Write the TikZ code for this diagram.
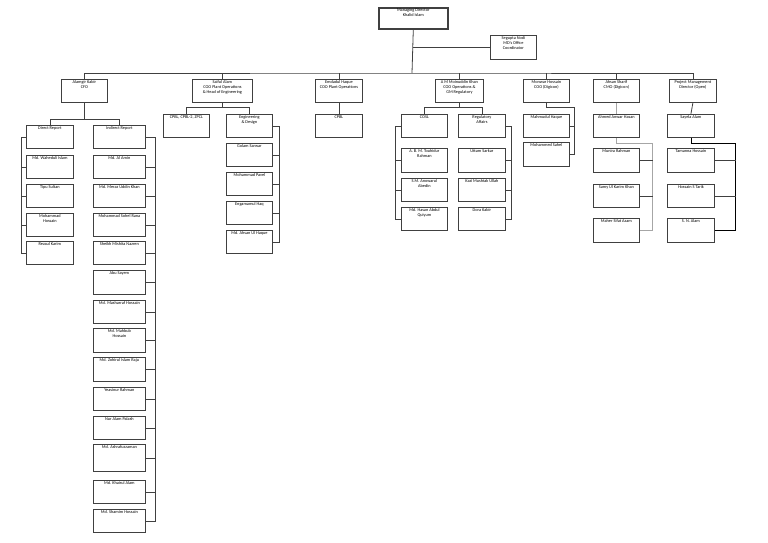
\documentclass[tikz,border=0pt]{standalone}
\usepackage{fontspec}
\setmainfont{Carlito}
\begin{document}
\begin{tikzpicture}[x=1pt,y=-1pt,
  box/.style={draw=black!75,line width=0.8pt,inner sep=0pt,anchor=north west},
  lbl/.style={font=\fontsize{4.3}{5}\selectfont,align=center,inner sep=1.5pt,anchor=north},
  ln/.style={draw=black!75,line width=0.8pt},
  gl/.style={draw=black!35,line width=0.8pt}]
\useasboundingbox (0,0) rectangle (768,543);
\newcommand\bx[6]{\node[box,minimum width={(#4-#2)*1pt},minimum height={(#5-#3)*1pt},label={[lbl]north:{#6}}] (#1) at (#2,#3) {};}
% top
\node[box,line width=1.6pt,minimum width=69pt,minimum height=21pt,label={[lbl]north:{Managing Director\\Khalid Islam}}] (md) at (378,7) {};
\bx{sn}{490}{35}{536}{59}{Segupta Nodi\\MD's Office\\Coordinator}
% level 1
\bx{cfo}{61}{79}{107}{102}{Alamgir Kabir\\CFO}
\bx{sa}{192}{79}{252}{102}{Saiful Alam\\COO Plant Operations\\\& Head of Engineering}
\bx{eh}{315}{79}{362}{102}{Emdadul Haque\\COO Plant Operations}
\bx{am}{435}{79}{483}{102}{A M Moinuddin Khan\\COO Operations \&\\GM Regulatory}
\bx{mh}{523}{79}{569}{102}{Monwar Hossain\\COO (Digicon)}
\bx{as}{593}{79}{639}{102}{Ahsan Sharif\\CMO (Digicon)}
\bx{pm}{669}{79}{716}{102}{Project Management\\Director (Open)}
\coordinate (bus) at (412,73);
\draw[ln] (md.south) -- (bus);
\draw[ln] (md.south |- sn.west) -- (sn.west);
\draw[ln] (cfo.north) |- (bus) -| (pm.north);
\foreach \n in {sa,eh,am,mh,as}{\draw[ln] (\n.north) -- (\n.north |- bus);}
% CFO
\bx{dr}{26}{125}{73}{148}{Direct Report}
\bx{ir}{93}{125}{145}{148}{Indirect Report}
\draw[ln] (cfo.south) -- ++(0,17) coordinate (cb);
\draw[ln] (dr.north) |- (cb) -| (ir.north);
\bx{d1}{26}{155}{73}{178}{Md. Waheduli Islam}
\bx{d2}{26}{184}{73}{207}{Tipu Sultan}
\bx{d3}{26}{213}{73}{236}{Mohammad\\Hossain}
\bx{d4}{26}{241}{73}{264}{Rezaul Karim}
\draw[ln] (dr.west) -- ++(-5,0) |- (d4.west);
\foreach \n in {d1,d2,d3}{\draw[ln] (\n.west) -- ++(-5,0);}
\bx{i1}{93}{155}{145}{178}{Md. Al Amin}
\bx{i2}{93}{184}{145}{207}{Md. Meraz Uddin Khan}
\bx{i3}{93}{213}{145}{236}{Mohammad Sohel Rana}
\bx{i4}{93}{241}{145}{264}{Sheikh Mishita Nazren}
\bx{i5}{93}{270}{145}{294}{Abu Sayem}
\bx{i6}{93}{300}{145}{323}{Md. Masharraf Hossain}
\bx{i7}{93}{328}{145}{352}{Md. Mahbub\\Hossain}
\bx{i8}{93}{357}{145}{381}{Md. Zohirul Islam Raju}
\bx{i9}{93}{387}{145}{410}{Yeasinur Rahman}
\bx{i10}{93}{416}{145}{439}{Nur Alam Palash}
\bx{i11}{93}{444}{145}{471}{Md. Ashrafuzzaman}
\bx{i12}{93}{480}{145}{503}{Md. Khairul Alam}
\bx{i13}{93}{509}{145}{532}{Md. Shamim Hossain}
\draw[ln] (ir.east) -- ++(10,0) |- (i13.east);
\foreach \n in {i1,i2,i3,i4,i5,i6,i7,i8,i9,i10,i11,i12}{\draw[ln] (\n.east) -- ++(10,0);}
% Saiful
\bx{cp}{163}{114}{209}{137}{CPBL, CPBL-2, ZPCL}
\bx{ed}{226}{114}{272}{137}{Engineering\\\& Design}
\draw[ln] (sa.south) -- ++(0,5) coordinate (sb);
\draw[ln] (cp.north) |- (sb) -| (ed.north);
\bx{e1}{226}{143}{272}{166}{Golam Sarwar}
\bx{e2}{226}{172}{272}{195}{Mohammad Pavel}
\bx{e3}{226}{201}{272}{224}{Engamamul Haq}
\bx{e4}{226}{230}{272}{253}{Md. Ahsan Ul Haque}
\draw[ln] (ed.east) -- ++(7,0) |- (e4.east);
\foreach \n in {e1,e2,e3}{\draw[ln] (\n.east) -- ++(7,0);}
% Emdadul
\bx{cpbl}{315}{114}{362}{137}{CPBL}
\draw[ln] (eh.south) -- (cpbl.north);
% Moinuddin
\bx{co}{401}{114}{447}{137}{COSL}
\bx{ra}{458}{114}{505}{137}{Regulatory\\Affairs}
\draw[ln] (am.south) -- ++(0,5) coordinate (ab);
\draw[ln] (co.north) |- (ab) -| (ra.north);
\bx{c1}{401}{148}{447}{172}{A. B. M. Touhidur\\Rahman}
\bx{c2}{401}{178}{447}{201}{S.M. Anowarul\\Abedin}
\bx{c3}{401}{207}{447}{230}{Md. Hasan Abdul\\Quiyum}
\draw[ln] (co.west) -- ++(-6,0) |- (c3.west);
\foreach \n in {c1,c2}{\draw[ln] (\n.west) -- ++(-6,0);}
\bx{r1}{458}{148}{505}{172}{Uttam Sarkar}
\bx{r2}{458}{178}{505}{201}{Kazi Mushtak Ullah}
\bx{r3}{458}{207}{505}{230}{Dora Kabir}
\draw[ln] (ra.east) -- ++(6,0) |- (r3.east);
\foreach \n in {r1,r2}{\draw[ln] (\n.east) -- ++(6,0);}
% Monwar
\bx{m1}{523}{114}{569}{137}{Mahmudul Haque}
\bx{m2}{523}{142}{569}{166}{Mohammed Sahel}
\draw[ln] (mh.south) -- ++(0,5) coordinate (mb);
\draw[ln] (mb) -| ([xshift=5pt]m2.east) -- (m2.east);
\draw[ln] (m1.east) -- ++(5,0);
% Ahsan
\bx{a0}{593}{114}{639}{137}{Ahmed Anwar Hasan}
\draw[gl] (as.south) -- (a0.north);
\bx{a1}{593}{148}{639}{172}{Munira Rahman}
\bx{a2}{593}{184}{639}{207}{Samy Ul Karim Khan}
\bx{a3}{593}{218}{639}{242}{Maher Sifat Azam}
\draw[gl] (a0.south) -- ++(0,6) coordinate (ab2);
\draw[gl] (ab2) -| ([xshift=13pt]a3.east) -- (a3.east);
\foreach \n in {a1,a2}{\draw[ln] (\n.east) -- ++(13,0);}
% PM
\bx{p0}{667}{114}{714}{137}{Sayela Alam}
\draw[ln] (pm.south) -- (p0.north);
\bx{p1}{667}{148}{714}{172}{Tamanna Hossain}
\bx{p2}{667}{184}{714}{207}{Hossain S Tarik}
\bx{p3}{667}{218}{714}{242}{S. N. Alam}
\draw[ln,draw=black] (p0.south) -- ++(0,6) coordinate (pb);
\draw[ln,draw=black] (pb) -| ([xshift=21pt]p3.east) -- (p3.east);
\foreach \n in {p1,p2}{\draw[ln] (\n.east) -- ++(21,0);}
\end{tikzpicture}
\end{document}
